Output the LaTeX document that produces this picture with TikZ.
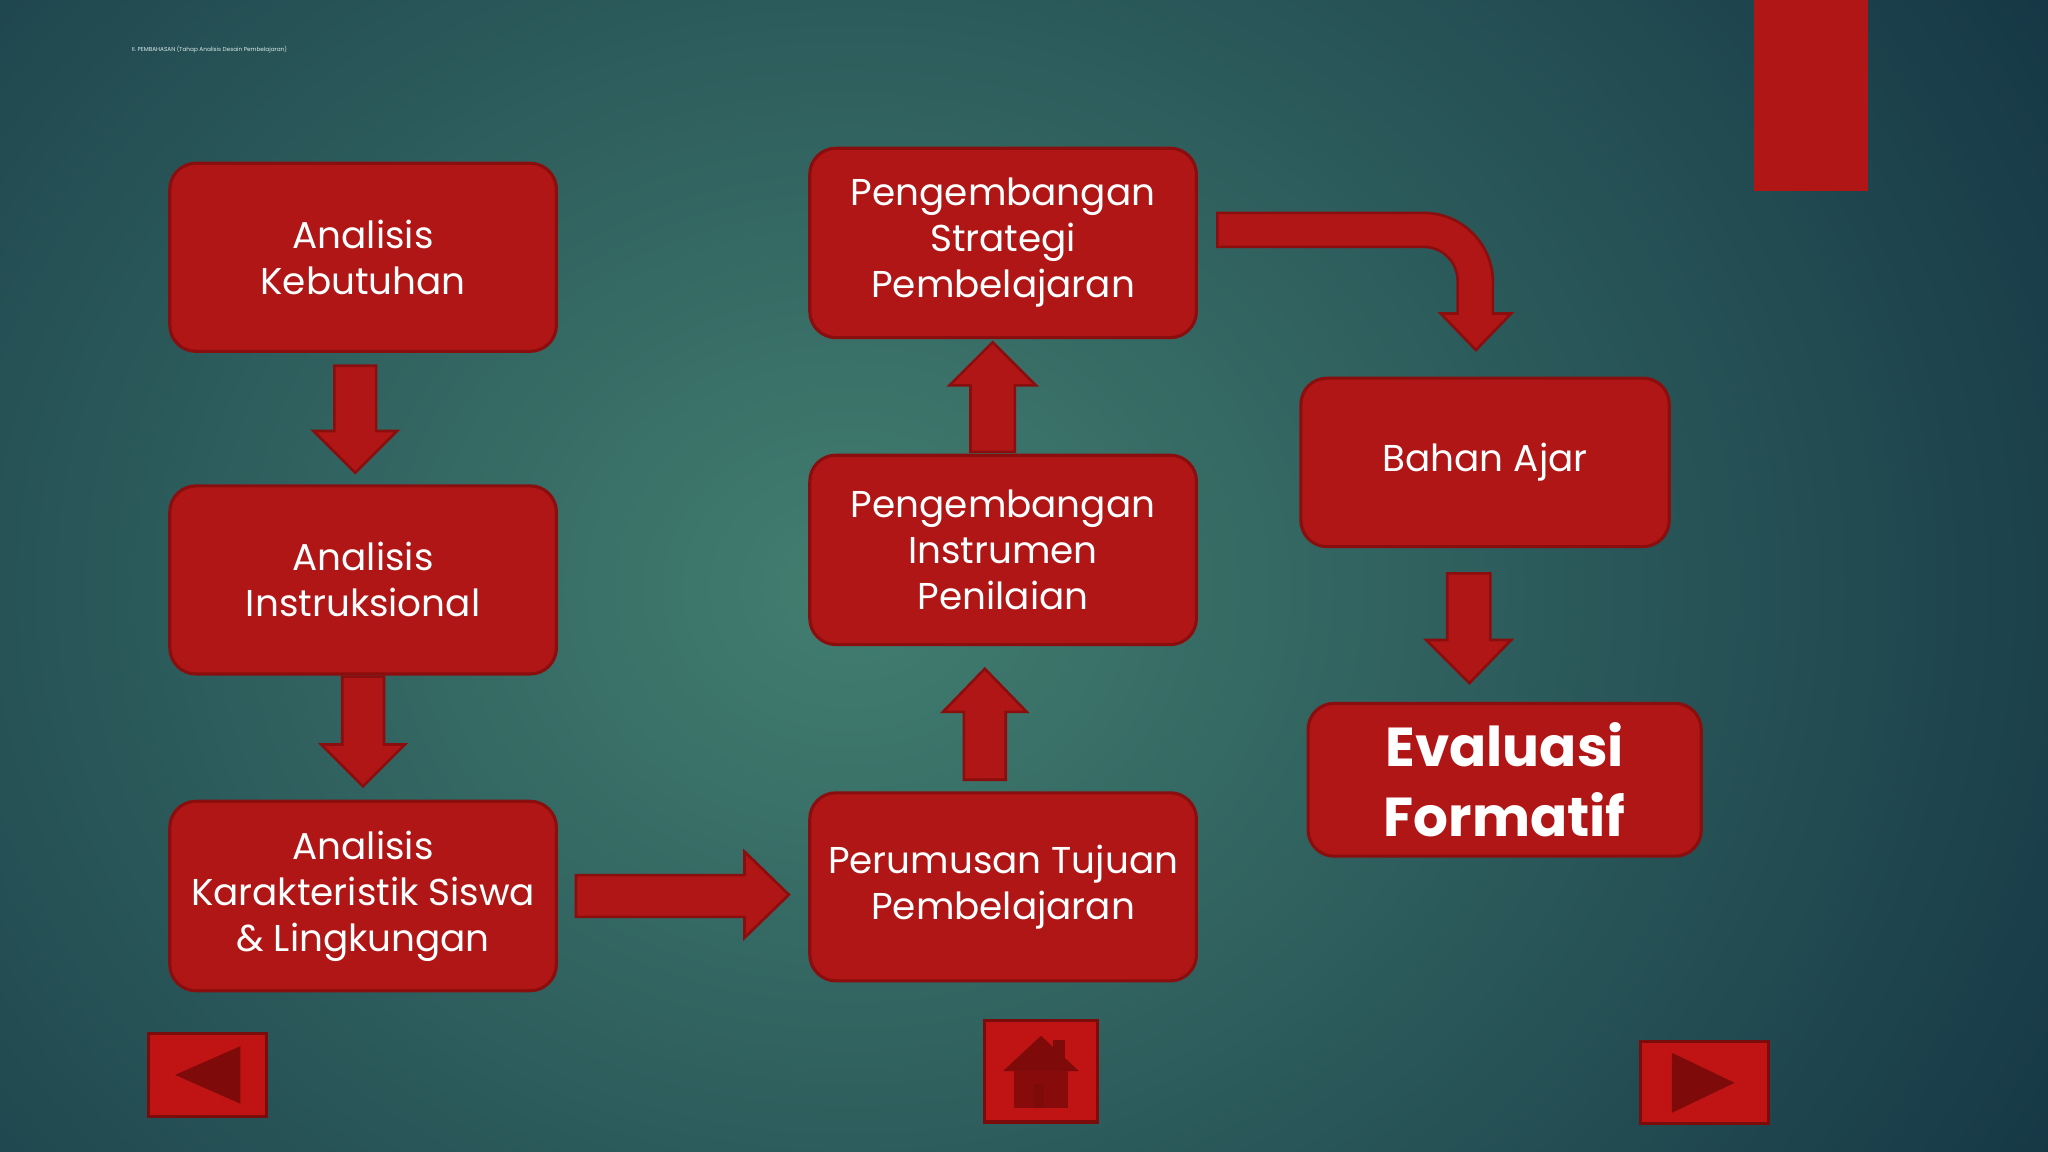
\documentclass[tikz,border=0pt]{standalone}
\usepackage{fontspec}
\setmainfont{Poppins}
\begin{document}
\begin{tikzpicture}[x=0.5pt,y=-0.5pt,
  box/.style={draw=boxedge,line width=1.2pt,fill=boxred,rounded corners=10pt,text=white,align=center,inner sep=0pt,font=\fontsize{14.3}{17.6}\selectfont},
  blk/.style={draw=boxedge,line width=1pt,fill=boxred},
  btn/.style={draw=btnedge,line width=1.2pt,fill=btnred}]
\definecolor{boxred}{HTML}{B01616}
\definecolor{boxedge}{HTML}{8A0E0E}
\definecolor{btnred}{HTML}{C01414}
\definecolor{btnedge}{HTML}{7A0C0C}
\definecolor{dark}{HTML}{7E0A0A}
\useasboundingbox (0,0) rectangle (1568,882);
\shade[inner color={rgb,255:red,66;green,126;blue,112},outer color={rgb,255:red,22;green,56;blue,70}] (-400,-450) rectangle (1700,1350);
\node[anchor=west,text=white!85!teal,font=\fontsize{2.2}{3}\selectfont] (title) at (94,38) {II. PEMBAHASAN (Tahap Analisis Desain Pembelajaran)};
\fill[boxred] (1343,0) rectangle (1430,146);
% boxes
\node[box,minimum width=148pt,minimum height=72pt] (a1) at (278,197) {Analisis\\Kebutuhan};
\node[box,minimum width=148pt,minimum height=72pt] (a2) at (278,444) {Analisis\\Instruksional};
\node[box,minimum width=148pt,minimum height=72.5pt] (a3) at (278,686) {Analisis\\Karakteristik Siswa\\\& Lingkungan};
\node[box,minimum width=148pt,minimum height=72pt] (p1) at (768,679) {Perumusan Tujuan\\Pembelajaran};
\node[box,minimum width=148pt,minimum height=72.5pt] (p2) at (768,421) {Pengembangan\\Instrumen\\Penilaian};
\node[box,minimum width=148pt,minimum height=72.5pt] (p3) at (768,186) {Pengembangan\\Strategi\\Pembelajaran};
\node[box,minimum width=141pt,minimum height=64.5pt] (b1) at (1137,354) {Bahan Ajar};
\node[box,minimum width=150.5pt,minimum height=58.5pt,font=\fontsize{21}{27}\selectfont\bfseries] (e1) at (1152,597) {Evaluasi\\Formatif};
% block arrows
\draw[blk] (256,280) -- (288,280) -- (288,330) -- (304,330) -- (272,362) -- (240,330) -- (256,330) -- cycle;
\draw[blk] (262,518) -- (294,518) -- (294,570) -- (310,570) -- (278,602) -- (246,570) -- (262,570) -- cycle;
\draw[blk] (441,670) -- (570,670) -- (570,652) -- (604,685) -- (570,718) -- (570,702) -- (441,702) -- cycle;
\draw[blk] (738,597) -- (770,597) -- (770,545) -- (786,545) -- (754,512) -- (722,545) -- (738,545) -- cycle;
\draw[blk] (743,346) -- (777,346) -- (777,295) -- (793,295) -- (760,262) -- (727,295) -- (743,295) -- cycle;
\draw[blk] (1108,439) -- (1141,439) -- (1141,490) -- (1157,490) -- (1125,523) -- (1092,490) -- (1108,490) -- cycle;
\draw[blk] (932,163) -- (1090,163) arc[start angle=-90,end angle=0,radius=53] -- (1143,240) -- (1157,240) -- (1130,268) -- (1103,240) -- (1116,240) -- (1116,215) arc[start angle=0,end angle=-90,radius=26] -- (932,189) -- cycle;
% buttons
\node[btn,minimum width=45pt,minimum height=32pt,inner sep=0] (prev) at (159,823) {};
\fill[dark] (134,823) -- (184,801) -- (184,845) -- cycle;
\node[btn,minimum width=43pt,minimum height=39pt,inner sep=0] (home) at (797,820) {};
\fill[dark] (768,820) -- (797,793) -- (826,820) -- cycle;
\fill[dark] (806,796) rectangle (815,812);
\fill[dark!85!btnred] (776,820) rectangle (818,848);
\fill[dark] (792,830) rectangle (799,848);
\node[btn,minimum width=49pt,minimum height=31.5pt,inner sep=0] (next) at (1305,829) {};
\fill[dark] (1280,806) -- (1328,829) -- (1280,852) -- cycle;
\end{tikzpicture}
\end{document}
